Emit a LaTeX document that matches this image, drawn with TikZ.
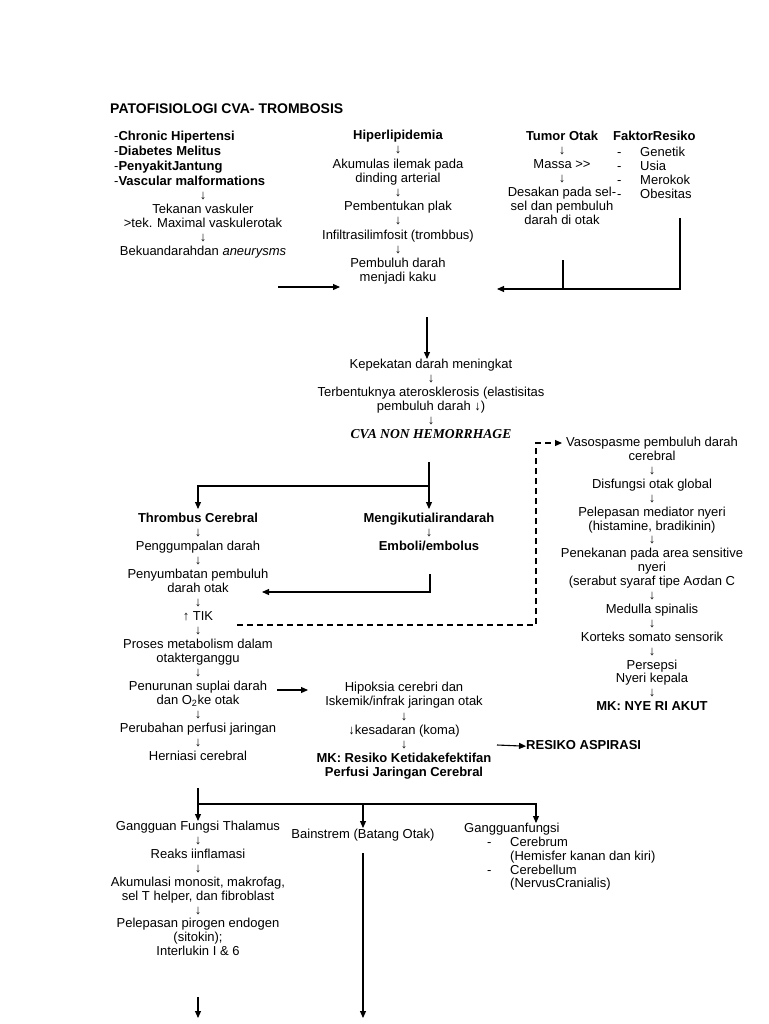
\documentclass[tikz,border=0pt]{standalone}
\usepackage{fontspec}
\setmainfont{Liberation Sans}
\newfontfamily\cvafont{Liberation Serif}
\usepackage{tikz}
\usetikzlibrary{calc}
\usetikzlibrary{arrows.meta}
\newcommand{\dn}{↓}
\newcommand{\tabdash}[1]{\makebox[23pt][l]{-}#1}
\newcommand{\fsize}[1]{\fontsize{13}{#1}\selectfont}
\tikzset{
    common/.style={inner sep=0pt, execute at begin node=\strut},
    col/.style={common, anchor=north, align=center, font=\fsize{14.2}},
    lst/.style={common, anchor=north west, align=left, font=\fsize{14.2}},
    flow/.style={->, line width=1.1pt},
    link/.style={line width=1.1pt},
    jump/.style={->, line width=1.1pt, dash pattern=on 6pt off 4pt}
}

\begin{document}
\begin{tikzpicture}[x=1pt, y={(0pt,-1pt)}, >={Triangle[length=7pt, width=6pt]}]
    \useasboundingbox[fill=white] (0,0) rectangle (768,1024);

    \node[lst, font=\fontsize{14}{15}\selectfont\bfseries] (title) at (110,103) {PATOFISIOLOGI CVA- TROMBOSIS};
    \node[lst, font=\fsize{14.8}] (cause) at (114,131)
        {-\textbf{Chronic Hipertensi}\\-\textbf{Diabetes Melitus}\\-\textbf{PenyakitJantung}\\-\textbf{Vascular malformations}};
    \node[col, font=\fsize{14}] (tekanan) at (203,192)
        {\dn\\Tekanan vaskuler\\>tek. Maximal vaskulerotak\\\dn\\Bekuandarahdan \textit{aneurysms}};
    \node[col] (hiper) at (398,130)
        {\textbf{Hiperlipidemia}\\\dn\\Akumulas ilemak pada\\dinding arterial\\\dn\\Pembentukan plak\\\dn\\Infiltrasilimfosit (trombbus)\\\dn\\Pembuluh darah\\menjadi kaku};
    \node[col, font=\fsize{14}] (tumor) at (562,131)
        {\textbf{Tumor Otak}\\\dn\\Massa >{}>\\\dn\\Desakan pada sel-\\sel dan pembuluh\\darah di otak};
    \node[lst, font=\fsize{14}\bfseries] (faktor) at (613,131) {FaktorResiko};
    \node[lst, font=\fsize{13.9}] (faktorlist) at (617,147)
        {\tabdash{Genetik}\\\tabdash{Usia}\\\tabdash{Merokok}\\\tabdash{Obesitas}};

    \node[col, font=\fsize{14}] (kep) at (431,359)
        {Kepekatan darah meningkat\\\dn\\Terbentuknya aterosklerosis (elastisitas\\pembuluh darah \dn)\\\dn\\{\cvafont\fontsize{13.6}{14}\selectfont\bfseries\itshape CVA NON HEMORRHAGE}};

    \node[col, font=\fsize{14}] (thr) at (198,513)
        {\textbf{Thrombus Cerebral}\\\dn\\Penggumpalan darah\\\dn\\Penyumbatan pembuluh\\darah otak\\\dn\\↑ TIK\\\dn\\Proses metabolism dalam\\otakterganggu\\\dn\\Penurunan suplai darah\\dan O\textsubscript{2}ke otak\\\dn\\Perubahan perfusi jaringan\\\dn\\Herniasi cerebral};
    \node[col, font=\fsize{14}] (men) at (429,513)
        {\textbf{Mengikutialirandarah}\\\dn\\\textbf{Emboli/embolus}};
    \node[col, font=\fsize{13.9}] (vaso) at (652,437)
        {Vasospasme pembuluh darah\\cerebral\\\dn\\Disfungsi otak global\\\dn\\Pelepasan mediator nyeri\\(histamine, bradikinin)\\\dn\\Penekanan pada area sensitive\\nyeri\\(serabut syaraf tipe Aσdan C\\\dn\\Medulla spinalis\\\dn\\Korteks somato sensorik\\\dn\\Persepsi\\Nyeri kepala\\\dn\\\textbf{MK: NYE RI AKUT}};
    \node[col] (hip) at (404,682)
        {Hipoksia cerebri dan\\Iskemik/infrak jaringan otak\\\dn\\\dn kesadaran (koma)\\\dn\\\textbf{MK: Resiko Ketidakefektifan}\\\textbf{Perfusi Jaringan Cerebral}};
    \node[lst, font=\fsize{14}\bfseries] (asp) at (526,739) {RESIKO ASPIRASI};

    \node[col, font=\fsize{13.9}] (gft) at (198,821)
        {Gangguan Fungsi Thalamus\\\dn\\Reaks iinflamasi\\\dn\\Akumulasi monosit, makrofag,\\sel T helper, dan fibroblast\\\dn\\Pelepasan pirogen endogen\\(sitokin);\\Interlukin I \& 6};
    \node[col] (bat) at (363,828) {Bainstrem (Batang Otak)};
    \node[lst, font=\fsize{13.8}] (gfs) at (464,823)
        {Gangguanfungsi\\\hspace*{23pt}\tabdash{Cerebrum}\\\hspace*{46pt}(Hemisfer kanan dan kiri)\\\hspace*{23pt}\tabdash{Cerebellum}\\\hspace*{46pt}(NervusCranialis)};

    \coordinate (lin) at (278,287);
    \coordinate (lout) at (340,287);
    \coordinate (fk) at (680,218);
    \coordinate (fkc) at (680,289);
    \coordinate (tm) at (563,260);
    \coordinate (ra) at (497,289);
    \coordinate (kp) at (427,317);
    \coordinate (cva) at (429,462);
    \coordinate (split) at (429,486);
    \coordinate (emb) at (430,574);
    \coordinate (pny) at (262,592);
    \coordinate (tik) at (237,625);
    \coordinate (dsh) at (536,625);
    \coordinate (vs) at (562,443);
    \coordinate (sup) at (277,690);
    \coordinate (hpx) at (308,690);
    \coordinate (mk) at (497,745);
    \coordinate (hrn) at (198,788);
    \coordinate (br) at (198,804);
    \coordinate (gfsin) at (536,823);
    \coordinate (il) at (198,997);
    \coordinate (ilend) at (198,1018);
    \coordinate (bs) at (363,853);
    \coordinate (bsend) at (363,1018);

    \draw[flow] (lin) -- (lout);
    \draw[flow] (fk) -- (fkc) -- (ra);
    \draw[link] (tm) -- (tm |- ra);
    \draw[flow] (kp) -- (kp |- kep.north);
    \draw[flow, shorten >=4pt] (cva) -- (men.north);
    \draw[flow, shorten >=4pt] (split) -| (thr.north);
    \draw[flow] (emb) |- (pny);
    \draw[jump] (tik) -- (dsh) |- (vs);
    \draw[flow] (sup) -- (hpx);
    \draw[flow] (mk) -- (asp.west);
    \draw[flow] (hrn) -- (gft.north);
    \draw[flow] (br) -| (gfsin);
    \draw[flow] (br -| bat.north) -- (bat.north);
    \draw[flow] (il) -- (ilend);
    \draw[flow] (bs) -- (bsend);
\end{tikzpicture}
\end{document}
